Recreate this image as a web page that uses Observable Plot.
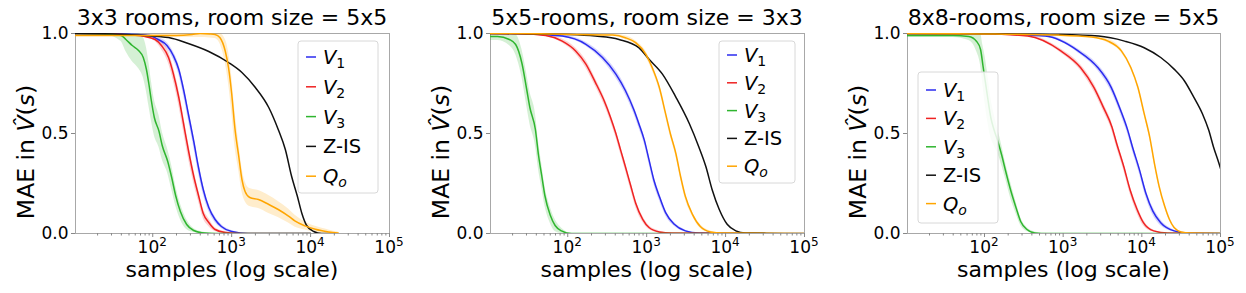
<!DOCTYPE html>
<html><head><meta charset="utf-8">
<script src="https://cdn.jsdelivr.net/npm/d3@7"></script>
<script src="https://cdn.jsdelivr.net/npm/@observablehq/plot@0.6"></script>
<style>
body{margin:0;background:#fff;}
#wrap{position:relative;width:1246px;height:293px;overflow:hidden;font-family:"DejaVu Sans",sans-serif;}
.panel{position:absolute;top:0;height:293px;}
.title{position:absolute;top:3px;height:30px;line-height:30px;font-size:22px;text-align:center;white-space:nowrap;color:#000;}
.panel svg{position:absolute;top:30px;left:0;}
</style>
</head><body><div id="wrap"></div>
<script>
// ---------- data (x given as log10 of samples) ----------
const seriesNames = ["V1","V2","V3","Z-IS","Qo"];
const seriesColors = ["#2b2bef","#ef2222","#2fb52f","#111111","#ffa500"];
const titles = ["3x3 rooms, room size = 5x5","5x5-rooms, room size = 3x3","8x8-rooms, room size = 5x5"];
const majorTicks = [100, 1000, 10000, 100000];
const majorTickExp = ["2","3","4","5"];
const yTicks = [0, 0.5, 1];
const yTickLabels = ["0.0","0.5","1.0"];
const xLabel = "samples (log scale)";

// Panel 1
const p1_V1_lx = [1.02,1.6,1.95,2.07,2.18,2.26,2.33,2.39,2.45,2.52,2.58,2.64,2.71,2.79,2.87,3.0,3.21,4.0];
const p1_V1_y  = [1,.997,.99,.97,.94,.89,.82,.72,.60,.46,.33,.22,.13,.07,.035,.01,0,0];
const p1_V1_sd = [0,0,.005,.01,.015,.02,.025,.03,.03,.03,.03,.025,.02,.015,.01,.005,0,0];
const p1_V2_lx = [1.02,1.6,1.90,2.03,2.11,2.20,2.26,2.33,2.39,2.45,2.52,2.58,2.64,2.71,2.79,2.92,3.13,4.0];
const p1_V2_y  = [1,.995,.985,.97,.94,.88,.80,.68,.55,.42,.285,.19,.10,.055,.02,.005,0,0];
const p1_V2_sd = [0,0,.005,.01,.02,.03,.035,.04,.04,.04,.035,.03,.025,.02,.01,.005,0,0];
const p1_V3_lx = [1.02,1.4,1.6,1.66,1.74,1.82,1.88,1.92,1.95,1.98,2.02,2.08,2.12,2.19,2.24,2.29,2.35,2.43,2.52,2.62,2.8,4.0];
const p1_V3_y  = [1,.998,.99,.97,.94,.915,.88,.82,.75,.67,.58,.51,.44,.36,.28,.19,.11,.045,.015,.004,0,0];
const p1_V3_sd = [0,.005,.03,.06,.08,.09,.1,.11,.11,.1,.09,.08,.07,.06,.06,.05,.04,.025,.01,.005,0,0];
const p1_ZIS_lx = [1.02,1.5,1.90,2.20,2.45,2.71,2.96,3.13,3.30,3.47,3.59,3.68,3.76,3.83,3.89,3.95,4.04,4.14,4.3];
const p1_ZIS_y  = [1,.998,.99,.98,.95,.91,.855,.805,.73,.63,.52,.42,.285,.19,.10,.04,.01,0,0];
const p1_Qo_lx = [1.02,1.5,2.0,2.3,2.5,2.6,2.72,2.79,2.85,2.92,2.96,3.0,3.04,3.09,3.13,3.17,3.23,3.34,3.47,3.59,3.72,3.80,3.93,4.06,4.23,4.35];
const p1_Qo_y  = [.99,.99,.99,.99,.995,1.0,.998,.995,.98,.91,.83,.70,.53,.385,.27,.21,.18,.17,.145,.12,.087,.063,.038,.021,.008,.002];
const p1_Qo_sd = [0,0,.005,.01,.015,.02,.02,.02,.03,.06,.08,.09,.09,.07,.06,.05,.045,.045,.045,.04,.035,.03,.02,.015,.01,.005];

// Panel 2
const p2_V1_lx = [1.02,1.5,1.93,2.23,2.44,2.61,2.73,2.84,2.90,2.97,3.03,3.09,3.16,3.24,3.35,3.49,3.66,4.5];
const p2_V1_y  = [1,.998,.987,.946,.88,.797,.715,.616,.55,.467,.368,.269,.186,.104,.046,.013,.002,0];
const p2_V1_sd = [0,0,.005,.01,.015,.02,.02,.02,.02,.02,.02,.02,.02,.015,.01,.005,0,0];
const p2_V2_lx = [1.02,1.4,1.72,1.93,2.10,2.23,2.35,2.46,2.54,2.61,2.67,2.73,2.80,2.86,2.95,3.03,3.16,3.32,4.5];
const p2_V2_y  = [1,.999,.99,.962,.913,.847,.756,.665,.583,.50,.417,.335,.236,.153,.071,.030,.008,.002,0];
const p2_V2_sd = [0,0,.005,.01,.015,.02,.02,.02,.02,.02,.02,.02,.02,.02,.015,.01,.005,0,0];
const p2_V3_lx = [1.02,1.11,1.26,1.34,1.42,1.48,1.52,1.59,1.63,1.67,1.71,1.78,1.84,1.92,2.05,4.5];
const p2_V3_y  = [.985,.985,.97,.945,.85,.72,.63,.52,.39,.29,.19,.09,.04,.013,0,0];
const p2_V3_sd = [.02,.02,.03,.05,.07,.08,.08,.08,.07,.06,.05,.04,.03,.015,0,0];
const p2_ZIS_lx = [1.02,1.6,2.02,2.35,2.65,2.90,3.03,3.20,3.37,3.54,3.66,3.75,3.83,3.92,4.02,4.13,4.25,5];
const p2_ZIS_y  = [1,.998,.995,.987,.970,.929,.871,.797,.682,.55,.434,.335,.219,.12,.046,.013,.002,0];
const p2_Qo_lx = [1.02,1.6,2.14,2.57,2.73,2.86,2.99,3.07,3.16,3.24,3.30,3.37,3.43,3.49,3.58,3.68,3.81,3.96,5];
const p2_Qo_y  = [1,.999,.995,.992,.979,.954,.896,.83,.731,.599,.50,.40,.285,.186,.096,.035,.008,.002,0];
const p2_Qo_sd = [0,0,0,.005,.01,.01,.015,.015,.015,.015,.015,.015,.015,.015,.01,.01,.005,0,0];

// Panel 3
const p3_V1_lx = [1.02,2.0,2.77,3.19,3.44,3.61,3.73,3.82,3.88,3.97,4.05,4.14,4.24,4.41,4.58,5];
const p3_V1_y  = [1,.999,.987,.913,.83,.731,.616,.517,.434,.318,.203,.112,.054,.013,.002,0];
const p3_V1_sd = [0,0,.005,.01,.015,.02,.02,.02,.02,.02,.02,.02,.015,.005,0,0];
const p3_V2_lx = [1.02,2.0,2.55,2.97,3.22,3.39,3.51,3.62,3.68,3.77,3.85,3.94,4.02,4.15,4.33,5];
const p3_V2_y  = [1,.999,.987,.913,.83,.731,.632,.533,.45,.335,.219,.12,.054,.013,.002,0];
const p3_V2_sd = [0,0,.005,.01,.015,.02,.02,.02,.02,.02,.02,.02,.015,.005,0,0];
const p3_V3_lx = [1.02,1.6,1.80,1.90,1.95,1.98,2.01,2.04,2.08,2.12,2.17,2.22,2.27,2.33,2.40,2.46,2.54,2.64,2.8,5];
const p3_V3_y  = [.99,.99,.985,.96,.92,.84,.76,.68,.58,.52,.46,.39,.31,.22,.13,.06,.02,.003,0,0];
const p3_V3_sd = [.01,.01,.02,.05,.08,.1,.12,.12,.1,.08,.06,.05,.04,.04,.03,.02,.01,.005,0,0];
const p3_ZIS_lx = [1.02,2.0,2.94,3.45,3.78,4.03,4.24,4.41,4.54,4.66,4.77,4.85,4.91,4.98,5.0];
const p3_ZIS_y  = [1,.999,.995,.987,.962,.929,.88,.822,.764,.682,.599,.517,.434,.351,.325];
const p3_Qo_lx = [1.02,2.0,2.94,3.36,3.57,3.74,3.86,3.95,4.03,4.10,4.16,4.22,4.29,4.35,4.41,4.50,4.62,5];
const p3_Qo_y  = [1,.998,.992,.982,.962,.913,.83,.731,.599,.483,.351,.236,.137,.071,.030,.008,.002,0];
const p3_Qo_sd = [0,0,0,.005,.01,.01,.01,.01,.01,.01,.01,.01,.01,.005,.005,0,0,0];

// ---------- layout ----------
const panels = [
  {left:0, width:415, ml:75, title:titles[0],
   series:[[p1_V1_lx,p1_V1_y,p1_V1_sd],[p1_V2_lx,p1_V2_y,p1_V2_sd],[p1_V3_lx,p1_V3_y,p1_V3_sd],[p1_ZIS_lx,p1_ZIS_y,null],[p1_Qo_lx,p1_Qo_y,p1_Qo_sd]],
   legend:{x:298,y:11,w:80,h:152,first:16,step:29.8}},
  {left:415, width:415, ml:75, title:titles[1],
   series:[[p2_V1_lx,p2_V1_y,p2_V1_sd],[p2_V2_lx,p2_V2_y,p2_V2_sd],[p2_V3_lx,p2_V3_y,p2_V3_sd],[p2_ZIS_lx,p2_ZIS_y,null],[p2_Qo_lx,p2_Qo_y,p2_Qo_sd]],
   legend:{x:304,y:11,w:76,h:142,first:14,step:27.8}},
  {left:830, width:416, ml:77, title:titles[2],
   series:[[p3_V1_lx,p3_V1_y,p3_V1_sd],[p3_V2_lx,p3_V2_y,p3_V2_sd],[p3_V3_lx,p3_V3_y,p3_V3_sd],[p3_ZIS_lx,p3_ZIS_y,null],[p3_Qo_lx,p3_Qo_y,p3_Qo_sd]],
   legend:{x:88,y:42,w:80,h:151,first:18,step:28.4}}
];
const MR = 26, MT = 3, MB = 60, H = 263;

const minorTicks = [];
for (let k = 1; k <= 4; k++) for (let m = 2; m <= 9; m++) minorTicks.push(m * 10 ** k);

const wrap = document.getElementById("wrap");

panels.forEach(p => {
  const rows = [], bands = [];
  p.series.forEach(([lx, ys, sd], si) => {
    lx.forEach((v, i) => {
      const r = {s: seriesNames[si], x: 10 ** v, y: ys[i]};
      rows.push(r);
      if (sd) bands.push({s: seriesNames[si], x: r.x, lo: Math.max(0, ys[i] - sd[i]), hi: Math.min(1, ys[i] + sd[i])});
    });
  });
  const div = document.createElement("div");
  div.className = "panel";
  div.style.left = p.left + "px";
  div.style.width = p.width + "px";
  const t = document.createElement("div");
  t.className = "title";
  t.style.left = p.ml + "px";
  t.style.width = (p.width - p.ml - MR) + "px";
  t.textContent = p.title;
  div.appendChild(t);

  const svgEl = Plot.plot({
    width: p.width, height: H,
    marginLeft: p.ml, marginRight: MR, marginTop: MT, marginBottom: MB,
    style: {fontFamily: "DejaVu Sans", fontSize: "17px", color: "#000", background: "transparent", overflow: "visible"},
    x: {type: "log", domain: [10.5, 1e5]},
    y: {domain: [0, 1]},
    color: {domain: seriesNames, range: seriesColors},
    marks: [
      Plot.frame({stroke: "#a8a8a8", strokeWidth: 1}),
      Plot.areaY(bands, {x: "x", y1: "lo", y2: "hi", z: "s", fill: "s", fillOpacity: 0.2, curve: "monotone-x", clip: true}),
      Plot.lineY(rows, {x: "x", y: "y", z: "s", stroke: "s", strokeWidth: 1.5, curve: "monotone-x", clip: true}),
      Plot.axisX(minorTicks, {tickSize: 2.5, tickFormat: () => "", label: null, stroke: "#888"}),
      Plot.axisX(majorTicks, {tickSize: 4, tickFormat: () => "", label: null, stroke: "#888"}),
      Plot.axisY(yTicks, {tickSize: 4, tickPadding: 3, tickFormat: d => yTickLabels[yTicks.indexOf(d)], label: null, stroke: "#888", fontSize: 17})
    ]
  });
  const svg = d3.select(svgEl);
  const xs = svgEl.scale("x");
  const pw = p.width - p.ml - MR;
  const bottom = H - MB;
  // x tick labels 10^k
  majorTicks.forEach((v, i) => {
    const tx = svg.append("text").attr("x", xs.apply(v)).attr("y", bottom + 20)
      .attr("text-anchor", "middle").attr("font-size", 17).attr("fill", "#000");
    tx.append("tspan").text("10");
    tx.append("tspan").attr("font-size", 12).attr("dy", -7).text(majorTickExp[i]);
  });
  // x label
  svg.append("text").attr("x", p.ml + pw / 2).attr("y", 247)
    .attr("text-anchor", "middle").attr("font-size", 22).attr("fill", "#000").text(xLabel);
  // y label
  const yl = svg.append("text").attr("transform", `translate(${p.ml - 41},${(MT + bottom) / 2 + 19}) rotate(-90)`)
    .attr("text-anchor", "middle").attr("font-size", 23.5).attr("fill", "#000");
  yl.append("tspan").text("MAE in ");
  yl.append("tspan").attr("font-style", "italic").text("V\u0302");
  yl.append("tspan").text("(");
  yl.append("tspan").attr("font-style", "italic").text("s");
  yl.append("tspan").text(")");
  // legend
  const L = p.legend;
  const g = svg.append("g").attr("text-anchor", "start");
  g.append("rect").attr("x", L.x).attr("y", L.y).attr("width", L.w).attr("height", L.h)
    .attr("rx", 3).attr("fill", "#fff").attr("fill-opacity", 0.85).attr("stroke", "#d8d8d8");
  const labs = [["V","1"],["V","2"],["V","3"],["Z-IS",null],["Q","o"]];
  seriesNames.forEach((n, i) => {
    const cy = L.y + L.first + i * L.step;
    g.append("line").attr("x1", L.x + 8).attr("x2", L.x + 18).attr("y1", cy).attr("y2", cy)
      .attr("stroke", seriesColors[i]).attr("stroke-width", 1.5);
    const tx = g.append("text").attr("x", L.x + 25).attr("y", cy + 7).attr("text-anchor", "start")
      .attr("font-size", 19.5).attr("fill", "#000");
    const [a, b] = labs[i];
    if (b === null) { tx.text(a); }
    else {
      tx.append("tspan").attr("font-style", "italic").text(a);
      const sub = tx.append("tspan").attr("font-size", 14).attr("dy", 4).text(b);
      if (b === "o") sub.attr("font-style", "italic");
    }
  });
  div.appendChild(svgEl);
  wrap.appendChild(div);
});
</script>
</body></html>
